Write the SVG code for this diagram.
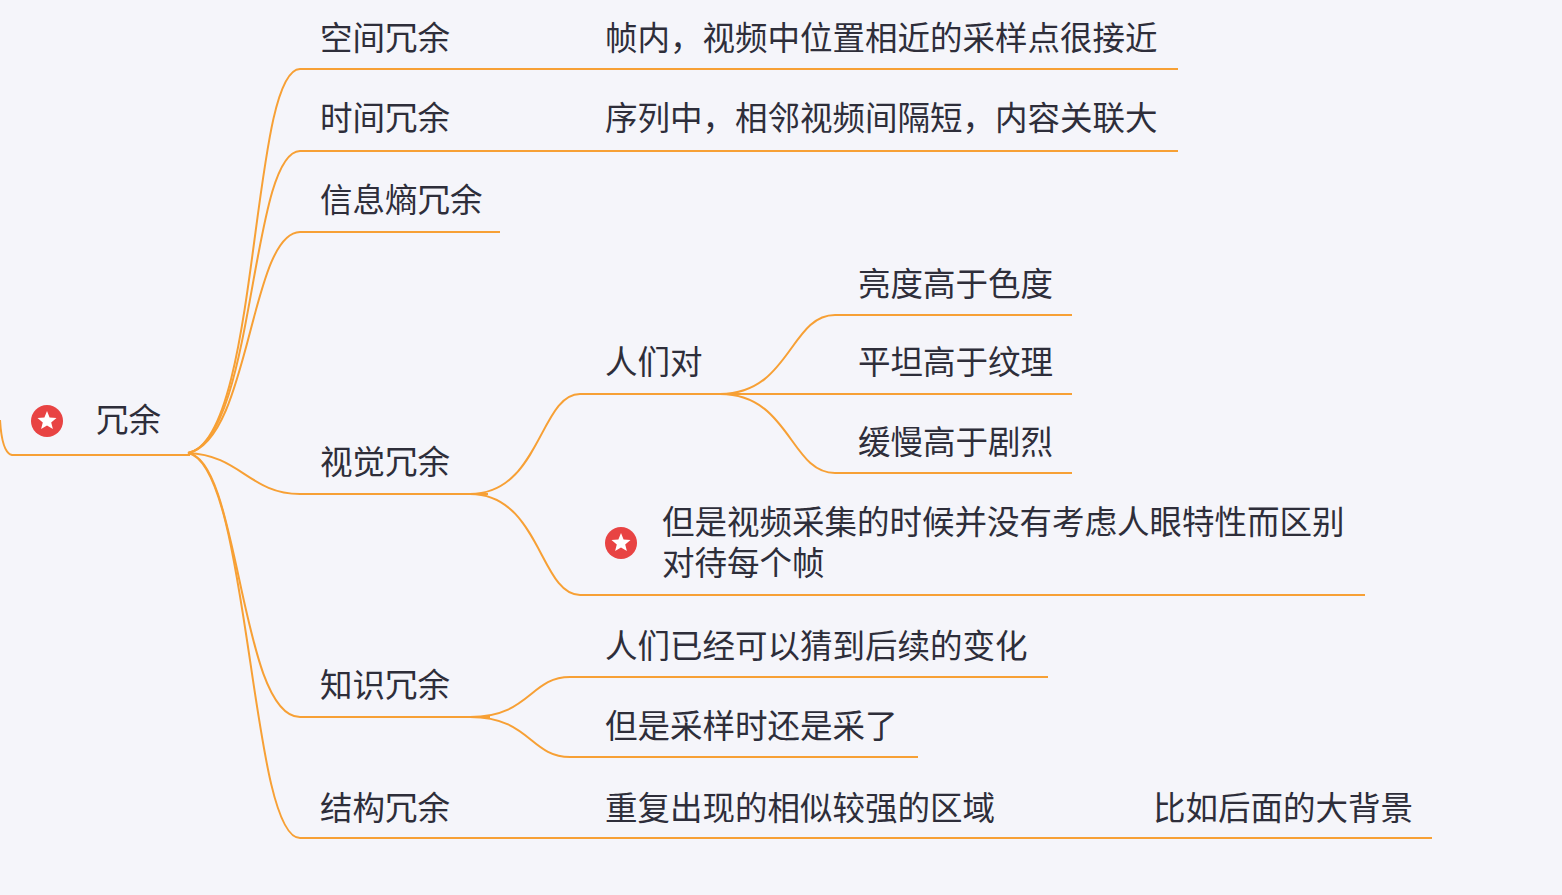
<svg xmlns="http://www.w3.org/2000/svg" width="1562" height="895" viewBox="0 0 1562 895">
<style>
.t{font-family:"Noto Sans CJK SC","Liberation Sans",sans-serif;font-size:32.5px;fill:#2e2e3a}
.l{fill:none;stroke:#f7a035;stroke-width:2}
</style>
<defs><g id="star"><circle r="16" fill="#e84343"/><polygon points="0,-10 2.6,-3.5 9.5,-3.1 4.2,1.4 5.9,8.1 0,4.4 -5.9,8.1 -4.2,1.4 -9.5,-3.1 -2.6,-3.5" fill="#fff"/></g></defs>
<rect width="1562" height="895" fill="#f5f5fa"/>
<g id="connectors">
<path class="l" d="M0,420 Q2,453 12,455 L190,455"/>
<path class="l" d="M188,453 C260,440 250,70 300,69 L1178,69"/>
<path class="l" d="M188,453 C255,440 250,152 300,151 L1178,151"/>
<path class="l" d="M188,453 C250,440 250,233 300,232 L500,232"/>
<path class="l" d="M188,453 C240,455 250,494 300,494 L488,494"/>
<path class="l" d="M188,453 C240,460 240,717 300,717 L490,717"/>
<path class="l" d="M188,453 C250,465 250,838 300,838 L1432,838"/>
<path class="l" d="M470,494 C540,494 540,394 580,394 L720,394"/>
<path class="l" d="M470,494 C540,494 540,595 580,595 L1365,595"/>
<path class="l" d="M720,394 C790,394 790,315 835,315 L1072,315"/>
<path class="l" d="M720,394 L1072,394"/>
<path class="l" d="M720,394 C790,394 790,473 835,473 L1072,473"/>
<path class="l" d="M470,717 C530,717 530,677 570,677 L1048,677"/>
<path class="l" d="M470,717 C530,717 530,757 570,757 L918,757"/>
</g>
<g id="root"><use href="#star" x="47" y="421"/><text class="t" x="96" y="432">冗余</text></g>
<g id="n1"><text class="t" x="320" y="50">空间冗余</text></g>
<g id="n1a"><text class="t" x="605" y="50">帧内，视频中位置相近的采样点很接近</text></g>
<g id="n2"><text class="t" x="320" y="130">时间冗余</text></g>
<g id="n2a"><text class="t" x="605" y="130">序列中，相邻视频间隔短，内容关联大</text></g>
<g id="n3"><text class="t" x="320" y="212">信息熵冗余</text></g>
<g id="n4"><text class="t" x="320" y="474">视觉冗余</text></g>
<g id="n4a"><text class="t" x="605" y="374">人们对</text></g>
<g id="n4a1"><text class="t" x="858" y="296">亮度高于色度</text></g>
<g id="n4a2"><text class="t" x="858" y="374">平坦高于纹理</text></g>
<g id="n4a3"><text class="t" x="858" y="454">缓慢高于剧烈</text></g>
<g id="n4b"><use href="#star" x="621" y="543"/><text class="t" x="662" y="534">但是视频采集的时候并没有考虑人眼特性而区别</text><text class="t" x="662" y="575">对待每个帧</text></g>
<g id="n5"><text class="t" x="320" y="697">知识冗余</text></g>
<g id="n5a"><text class="t" x="605" y="658">人们已经可以猜到后续的变化</text></g>
<g id="n5b"><text class="t" x="605" y="738">但是采样时还是采了</text></g>
<g id="n6"><text class="t" x="320" y="820">结构冗余</text></g>
<g id="n6a"><text class="t" x="605" y="820">重复出现的相似较强的区域</text></g>
<g id="n6b"><text class="t" x="1153" y="820">比如后面的大背景</text></g>
</svg>
